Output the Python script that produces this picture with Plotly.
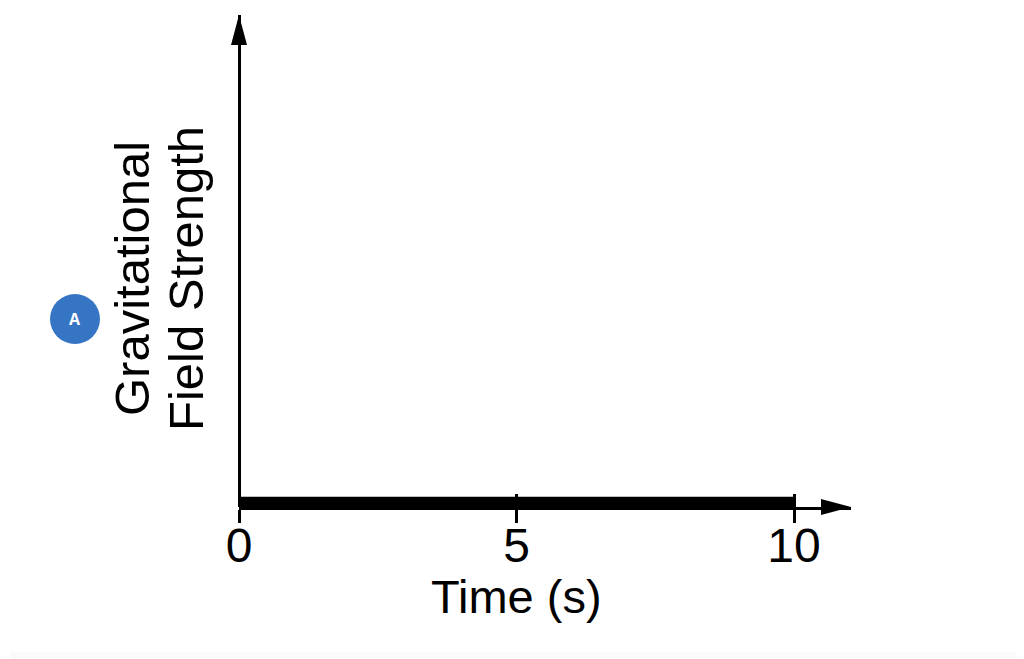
"""Gravitational field strength against time: flat line at zero."""

import plotly.graph_objects as go

time_s = [0, 5, 10]
field_strength = [0, 0, 0]
tick_values = [0, 5, 10]
tick_labels = ["0", "5", "10"]

# the page body has an 8px margin, so the figure starts at (8, 8) in the window
PAGE_MARGIN = 8
WIDTH, HEIGHT = 1024 - PAGE_MARGIN, 659 - PAGE_MARGIN
LEFT, RIGHT, TOP, BOTTOM = 231, 843, 7, 499
FONT = "Liberation Sans"
BLACK = "#000000"


def paper_x(px):
    return (px - PAGE_MARGIN - LEFT) / (RIGHT - LEFT)


def paper_y(px):
    return (BOTTOM - (px - PAGE_MARGIN)) / (BOTTOM - TOP)


fig = go.Figure()
fig.add_trace(
    go.Scatter(
        x=time_s,
        y=field_strength,
        mode="lines",
        line={"color": BLACK, "width": 10.5},
        showlegend=False,
        hoverinfo="x+y",
    )
)
# invisible trace on the overlaid axis, so its upward tick marks get drawn
fig.add_trace(
    go.Scatter(
        x=time_s,
        y=field_strength,
        xaxis="x2",
        mode="lines",
        line={"width": 0},
        showlegend=False,
        hoverinfo="skip",
    )
)

fig.update_layout(
    width=WIDTH,
    height=HEIGHT,
    autosize=False,
    paper_bgcolor="white",
    plot_bgcolor="white",
    margin={"l": LEFT, "r": WIDTH - RIGHT, "t": TOP, "b": HEIGHT - BOTTOM, "pad": 0},
    font={"family": FONT, "color": BLACK, "size": 47},
    xaxis={
        "range": [0, 10 * (RIGHT - LEFT) / 555],
        "tickmode": "array",
        "tickvals": tick_values,
        "ticktext": tick_labels,
        "ticks": "outside",
        "ticklen": 13,
        "tickwidth": 2.5,
        "tickcolor": BLACK,
        "tickfont": {"size": 48, "family": FONT},
        "ticklabelstandoff": -18,
        "showline": True,
        "linecolor": BLACK,
        "linewidth": 2.5,
        "showgrid": False,
        "zeroline": False,
    },
    xaxis2={
        "overlaying": "x",
        "anchor": "y",
        "side": "bottom",
        "range": [0, 10 * (RIGHT - LEFT) / 555],
        "tickmode": "array",
        "tickvals": tick_values,
        "ticktext": ["", "", ""],
        "ticks": "inside",
        "ticklen": 13,
        "tickwidth": 2.5,
        "tickcolor": BLACK,
        "showgrid": False,
        "zeroline": False,
        "showline": False,
    },
    yaxis={
        "range": [-5, 487],
        "showticklabels": False,
        "ticks": "",
        "showline": True,
        "linecolor": BLACK,
        "linewidth": 2.5,
        "showgrid": False,
        "zeroline": False,
        # plotly draws the line just outside the plot area, nudge it onto x=0
        "anchor": "free",
        "position": 0,
    },
    shapes=[
        # arrow heads on the two axes, sized in pixels
        {
            "type": "path",
            "xref": "paper",
            "yref": "paper",
            "xsizemode": "pixel",
            "ysizemode": "pixel",
            "xanchor": 1,
            "yanchor": 0,
            "path": "M 0 0 L -30 8 L -30 -8 Z",
            "fillcolor": BLACK,
            "line": {"width": 0},
        },
        {
            "type": "path",
            "xref": "paper",
            "yref": "paper",
            "xsizemode": "pixel",
            "ysizemode": "pixel",
            "xanchor": 0,
            "yanchor": 1,
            "path": "M 0 0 L -8 -30 L 8 -30 Z",
            "fillcolor": BLACK,
            "line": {"width": 0},
        },
        # answer option badge
        {
            "type": "circle",
            "xref": "paper",
            "yref": "paper",
            "x0": paper_x(50),
            "x1": paper_x(100),
            "y0": paper_y(344),
            "y1": paper_y(294),
            "fillcolor": "#3674C4",
            "line": {"width": 0},
        },
        # faint grey strip along the bottom edge
        {
            "type": "rect",
            "xref": "paper",
            "yref": "paper",
            "x0": paper_x(10),
            "x1": paper_x(1024),
            "y0": paper_y(659),
            "y1": paper_y(652),
            "fillcolor": "#FBFBFB",
            "line": {"width": 0},
            "layer": "below",
        },
    ],
    annotations=[
        {
            "text": "Gravitational",
            "xref": "paper",
            "yref": "paper",
            "x": paper_x(132),
            "y": paper_y(279),
            "xanchor": "center",
            "yanchor": "middle",
            "textangle": -90,
            "showarrow": False,
            "font": {"size": 49, "family": FONT, "color": BLACK},
        },
        {
            "text": "Field Strength",
            "xref": "paper",
            "yref": "paper",
            "x": paper_x(186),
            "y": paper_y(279),
            "xanchor": "center",
            "yanchor": "middle",
            "textangle": -90,
            "showarrow": False,
            "font": {"size": 49, "family": FONT, "color": BLACK},
        },
        {
            "text": "Time (s)",
            "xref": "x",
            "yref": "paper",
            "x": 5,
            "y": paper_y(596),
            "xanchor": "center",
            "yanchor": "middle",
            "showarrow": False,
            "font": {"size": 47, "family": FONT, "color": BLACK},
        },
        {
            "text": "<b>A</b>",
            "xref": "paper",
            "yref": "paper",
            "x": paper_x(75),
            "y": paper_y(319),
            "xanchor": "center",
            "yanchor": "middle",
            "showarrow": False,
            "font": {"size": 16, "family": "Open Sans", "color": "white"},
        },
    ],
)

fig.write_html("out.html")
